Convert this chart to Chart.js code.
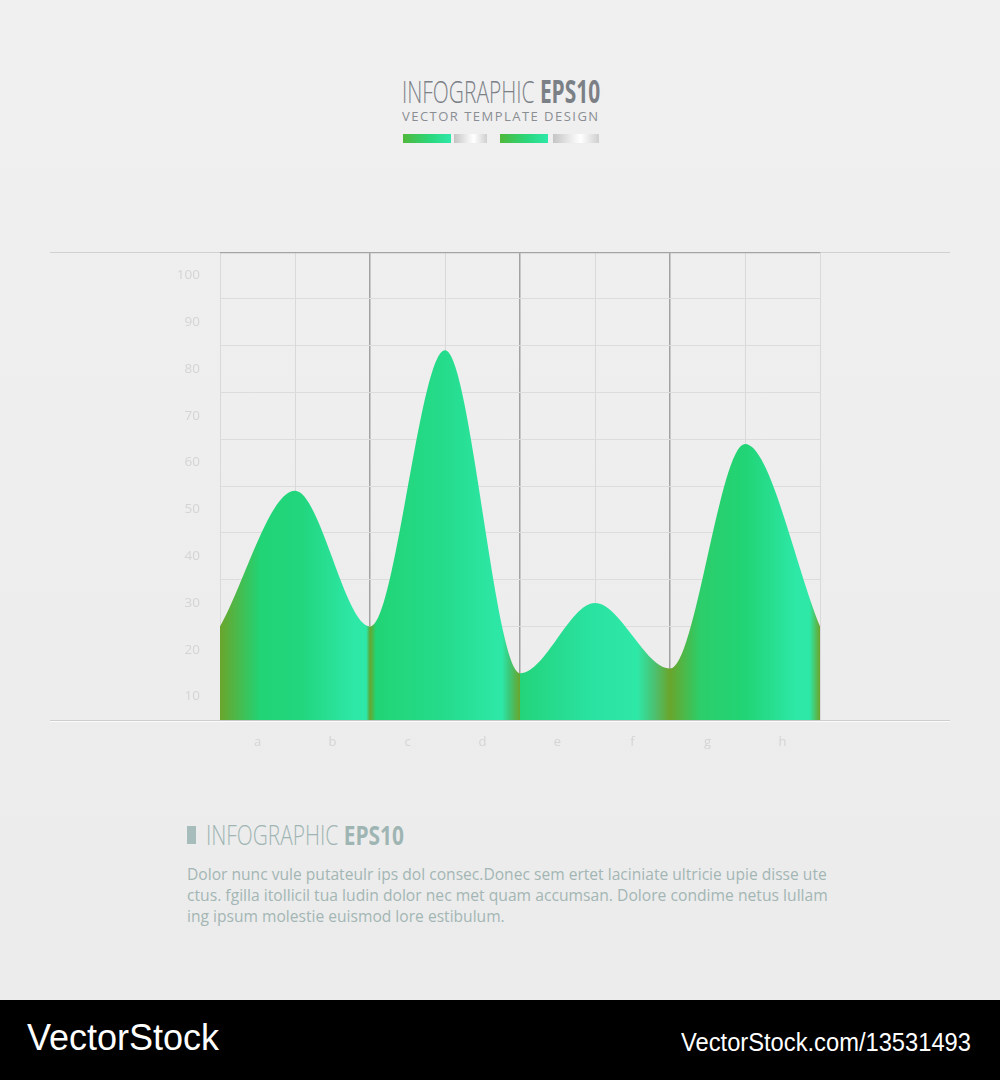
<!DOCTYPE html>
<html>
<head>
<meta charset="utf-8">
<script src="https://cdn.jsdelivr.net/npm/chart.js@4.4.1/dist/chart.umd.min.js"></script>
<style>
  html, body { margin: 0; padding: 0; }
  body {
    width: 1000px; height: 1080px; position: relative; overflow: hidden;
    background: linear-gradient(180deg, #f0f0f0 0%, #ededed 60%, #ebebeb 100%);
    font-family: "Open Sans", Roboto, sans-serif;
  }
  .fit { position: absolute; white-space: nowrap; transform-origin: 0 0; }
  #title { left: 402px; top: 73px; font-size: 32px; color: #7b8087; font-weight: 300; line-height: 35px; }
  #title b, #subTitle b { font-weight: 700; }
  #sub { left: 402px; top: 109px; font-size: 12.5px; color: #8a8e93; letter-spacing: 1.4px; line-height: 16px; }
  .bar { position: absolute; top: 134px; height: 9px; }
  .green { background: linear-gradient(90deg, #4fb83a 0%, #2bd67a 55%, #2ee8a8 100%); }
  .silver { background: linear-gradient(90deg, #c4c4c4 0%, #f2f2f2 45%, #ffffff 60%, #cfcfcf 100%); }
  #chartBox { position: absolute; left: 0; top: 200px; width: 1000px; height: 600px; }
  #mark { position: absolute; left: 187px; top: 826px; width: 9px; height: 18px; background: #a7bdbb; }
  #subTitle { left: 206px; top: 818px; font-size: 27px; color: #9fb5b3; font-weight: 300; line-height: 34px; }
  .para { left: 187px; font-size: 15.5px; color: #a3b6b4; line-height: 20px; }
  #footer { position: absolute; left: 0; top: 1000px; width: 1000px; height: 80px; background: #000; }
  #logo { left: 27px; top: 1017px; font-family: "Liberation Sans", Arial, sans-serif; font-size: 36px; color: #fff; line-height: 42px; }
  #url { left: 681px; top: 1027px; font-family: "Liberation Sans", Arial, sans-serif; font-size: 26px; color: #fff; line-height: 30px; }
</style>
</head>
<body>
<div id="title" class="fit" data-w="198">INFOGRAPHIC <b>EPS10</b></div>
<div id="sub" class="fit" data-w="198">VECTOR TEMPLATE DESIGN</div>
<div class="bar green" style="left:403px;width:48px"></div>
<div class="bar silver" style="left:454px;width:33px"></div>
<div class="bar green" style="left:500px;width:48px"></div>
<div class="bar silver" style="left:553px;width:46px"></div>

<div id="chartBox"><canvas id="areaChart"></canvas></div>

<div id="mark"></div>
<div id="subTitle" class="fit" data-w="198">INFOGRAPHIC <b>EPS10</b></div>
<div class="para fit" data-w="640" style="top:864px">Dolor nunc vule putateulr ips dol consec.Donec sem ertet laciniate ultricie upie disse ute</div>
<div class="para fit" data-w="641" style="top:885px">ctus. fgilla itollicil tua ludin dolor nec met quam accumsan. Dolore condime netus lullam</div>
<div class="para fit" data-w="318" style="top:906px">ing ipsum molestie euismod lore estibulum.</div>

<div id="footer"></div>
<div id="logo" class="fit" data-w="192">VectorStock</div>
<div id="url" class="fit" data-w="290">VectorStock.com/13531493</div>

<script>
// Chart data
const categories = ["a", "b", "c", "d", "e", "f", "g", "h"];
const yTickLabels = ["10", "20", "30", "40", "50", "60", "70", "80", "90", "100"];
// values at the gridlines between categories (start, peaks, valleys, end)
const seriesValues = [20, 49, 20, 79, 10, 25, 11, 59, 20];

// squeeze text lines to the widths seen in the picture
document.querySelectorAll(".fit").forEach((el) => {
  const target = parseFloat(el.dataset.w);
  const w = el.scrollWidth;
  if (w > 0) el.style.transform = "scaleX(" + (target / w) + ")";
});

const olive = "#6aa52c";
const green = "#21d475";
const aqua = "#2ee8a8";

// gradient stops per section (pair of categories)
const sectionStops = [
  [[0, olive], [0.27, green], [0.55, "#22d67e"], [0.9, aqua], [0.975, aqua], [1, "#5aa836"]],
  [[0, olive], [0.04, green], [0.5, "#25dc8c"], [0.88, aqua], [0.93, "#3cc878"], [1, olive]],
  [[0, "#23d47a"], [0.45, "#2ae2a0"], [0.78, aqua], [0.9, "#4cc070"], [1, olive]],
  [[0, olive], [0.2, "#2cce6a"], [0.5, green], [0.85, aqua], [0.93, aqua], [1, olive]],
];

function areaGradient(context) {
  const chart = context.chart;
  const area = chart.chartArea;
  if (!area) return green;
  const xs = chart.scales.x;
  const g = chart.ctx.createLinearGradient(area.left, 0, area.right, 0);
  const span = area.right - area.left;
  sectionStops.forEach((stops, s) => {
    const x0 = xs.getPixelForValue(s * 2);
    const x1 = xs.getPixelForValue(s * 2 + 2);
    stops.forEach(([f, c]) => {
      let off = (x0 + (x1 - x0) * f - area.left) / span;
      off = Math.min(1, Math.max(0, off));
      g.addColorStop(off, c);
    });
  });
  return g;
}

function hLine(ctx, x0, x1, y, color) {
  ctx.strokeStyle = color;
  ctx.beginPath();
  ctx.moveTo(x0, y);
  ctx.lineTo(x1, y);
  ctx.stroke();
}

// long frame lines above and below the plot
const frameLines = {
  id: "frameLines",
  afterDraw(chart) {
    const { ctx, chartArea } = chart;
    const t = chartArea.top + 0.5;
    const b = chartArea.bottom + 0.5;
    ctx.save();
    ctx.lineWidth = 1;
    hLine(ctx, 50, 950, t, "rgba(170,170,170,0.45)");
    hLine(ctx, chartArea.left, chartArea.right, t, "rgba(140,140,140,0.6)");
    hLine(ctx, chartArea.left, chartArea.right, t + 1, "rgba(190,190,190,0.35)");
    hLine(ctx, 50, 950, b, "rgba(195,195,195,0.75)");
    hLine(ctx, 50, 950, b + 1, "rgba(255,255,255,0.8)");
    ctx.restore();
  },
};

const ctx = document.getElementById("areaChart").getContext("2d");
new Chart(ctx, {
  type: "line",
  data: {
    datasets: [
      {
        data: seriesValues.map((v, i) => ({ x: i, y: v })),
        fill: "origin",
        backgroundColor: areaGradient,
        borderWidth: 0,
        pointRadius: 0,
        cubicInterpolationMode: "monotone",
      },
    ],
  },
  options: {
    responsive: true,
    maintainAspectRatio: false,
    animation: false,
    layout: { padding: { top: 52, right: 180, left: 0, bottom: 0 } },
    plugins: { legend: { display: false }, tooltip: { enabled: false } },
    scales: {
      x: {
        type: "linear",
        min: 0,
        max: categories.length,
        border: { display: false },
        ticks: { display: false, stepSize: 1 },
        grid: {
          drawTicks: false,
          color: (c) => (c.tick.value % 2 === 0 && c.tick.value > 0 && c.tick.value < categories.length ? "#a2a2a2" : "#d9d9d9"),
          lineWidth: (c) => (c.tick.value % 2 === 0 && c.tick.value > 0 && c.tick.value < categories.length ? 1.5 : 1),
        },
        afterFit: (s) => { s.height = 0; },
      },
      x2: {
        type: "linear",
        position: "bottom",
        min: 0,
        max: categories.length,
        border: { display: false },
        grid: { display: false, drawTicks: false },
        afterBuildTicks: (s) => { s.ticks = categories.map((c, i) => ({ value: i + 0.5 })); },
        ticks: {
          padding: 14,
          color: "#d4d4d4",
          font: { family: "Open Sans", size: 13 },
          callback: (v, i) => categories[i],
        },
        afterFit: (s) => { s.height = 80; },
      },
      y: {
        min: 0,
        max: 100,
        border: { display: false },
        ticks: { display: false, stepSize: 10 },
        grid: { color: "#dcdcdc", drawTicks: false },
        afterFit: (s) => { s.width = 0; },
      },
      y2: {
        position: "left",
        min: 0,
        max: 100,
        border: { display: false },
        grid: { display: false, drawTicks: false },
        afterBuildTicks: (s) => { s.ticks = yTickLabels.map((t, i) => ({ value: i * 10 + 5 })); },
        ticks: {
          padding: 20,
          color: "#d4d4d4",
          font: { family: "Open Sans", size: 13.5 },
          callback: (v, i) => yTickLabels[i],
        },
        afterFit: (s) => { s.width = 220; },
      },
    },
  },
  plugins: [frameLines],
});
</script>
</body>
</html>
